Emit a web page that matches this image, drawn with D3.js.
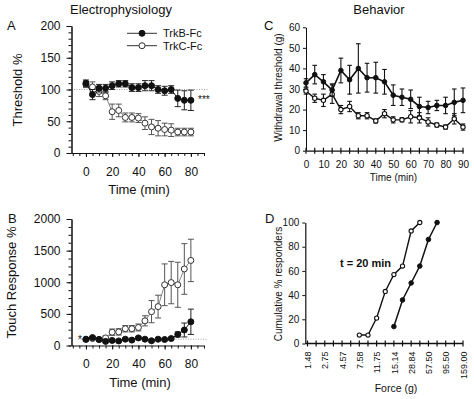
<!DOCTYPE html>
<html><head><meta charset="utf-8">
<script src="https://cdn.jsdelivr.net/npm/d3@7"></script>
<style>
body{margin:0;background:#fff}
svg{display:block}
text{font-family:"Liberation Sans",Arial,Helvetica,sans-serif;fill:#111}
</style>
</head><body>
<svg id="c" width="474" height="399"></svg>
<script>
// ---------- DATA ----------
const timeAB = [0,5,10,15,20,25,30,35,40,45,50,55,60,65,70,75,80];
// Panel A: threshold %
const thrTrkB    = [110,92,102,102,106,109,109,103,103,106,106,100,98,100,86,83,83];
const thrTrkBErr = [5,8,6,6,6,5,5,6,6,8,8,6,7,6,13,15,16];
const thrTrkC    = [108,104,97,90,65,67,56,56,55,47,41,39,37,36,33,33,33];
const thrTrkCErr = [5,8,8,6,12,10,7,7,7,10,12,12,10,10,6,6,6];
// Panel B: touch response %
const touchTrkB    = [100,125,95,65,80,72,100,85,120,100,75,100,95,110,175,245,375];
const touchTrkBErr = [20,20,20,20,20,20,20,20,20,20,20,20,20,20,40,110,200];
const touchTrkC    = [95,110,95,120,210,215,265,265,285,390,535,615,960,995,960,1210,1345];
const touchTrkCErr = [20,20,20,30,50,50,50,50,55,80,175,180,330,335,356,400,335];
// Panel C: withdrawal threshold (g)
const timeC = [0,5,10,15,20,25,30,35,40,45,50,55,60,65,70,75,80,85,90];
const wdTrkB    = [33,37,33.5,29.5,39,34.5,40,35.5,35.5,33.5,27,26,25,21.5,21,22,22,23.5,24.5];
const wdTrkBErr = [2,4.5,3.5,3,6,7,12,7,7.5,6,5,4,4.5,4.5,3,2.5,4,6.5,6];
const wdTrkC    = [29,25.5,24.5,27.5,20,21.5,17,17,14.5,18,15,15,16.5,16,14,12.5,11.5,15.5,11.5];
const wdTrkCErr = [1.5,2,3,4.5,2,2.5,1.5,1.5,1,2,1.5,1,3,2.5,2,1,1,2.5,1.5];
// Panel D: cumulative % responders (x = position on the force scale, half steps between labels)
const forceLabels = ["1.48","2.75","4.57","7.58","11.75","15.14","28.84","57.50","95.50","159.00"];
const cumTrkCPos = [3,3.5,4,4.5,5,5.5,6,6.5];
const cumTrkC    = [7,7,21,43,57,64,93,100];
const cumTrkBPos = [5,5.5,6,6.5,7,7.5];
const cumTrkB    = [14,36,50,64,86,100];
// tick values
const ticksA_major = [0,50,100,150,200];
const ticksB_major = [0,500,1000,1500,2000];
const ticksAB_x = [0,20,40,60,80];
const ticksC_y = [0,10,20,30,40,50,60];
const ticksC_x = [0,10,20,30,40,50,60,70,80,90];
const ticksD_y = [0,20,40,60,80,100];

// ---------- DRAW ----------
const svg = d3.select("#c");
const FONT_AB = 12;

function styleAxis(g, fs){
  g.select(".domain").attr("stroke","#111").attr("stroke-width",1);
  g.selectAll(".tick line").attr("stroke","#111").attr("stroke-width",1);
  g.selectAll(".tick text").style("font-size",fs+"px").style("font-family",'"Liberation Sans",Arial,sans-serif').attr("fill","#111");
}

function series(g, x, y, xs, vs, es, o){
  const pts = xs.map((t,i)=>({t, v:vs[i], e: es ? es[i] : 0}));
  if (es) {
    const eb = g.append("g").attr("stroke", o.errColor).attr("stroke-width", o.errW || 1);
    pts.forEach(p=>{
      eb.append("line").attr("x1",x(p.t)).attr("x2",x(p.t)).attr("y1",y(p.v-p.e)).attr("y2",y(p.v+p.e));
      [p.v-p.e, p.v+p.e].forEach(val=>{
        eb.append("line").attr("x1",x(p.t)-o.cap).attr("x2",x(p.t)+o.cap).attr("y1",y(val)).attr("y2",y(val));
      });
    });
  }
  g.append("path").datum(pts)
    .attr("d", d3.line().x(p=>x(p.t)).y(p=>y(p.v)))
    .attr("fill","none").attr("stroke",o.lineColor).attr("stroke-width",o.lineW);
  g.append("g").selectAll("circle").data(pts).join("circle")
    .attr("cx",p=>x(p.t)).attr("cy",p=>y(p.v)).attr("r",o.r)
    .attr("fill",o.fill).attr("stroke",o.stroke).attr("stroke-width",o.sw||1);
}

function text(x,y,s,o={}){
  const t = svg.append("text").attr("x",x).attr("y",y).text(s)
    .style("font-size",(o.fs||12)+"px").attr("fill","#111");
  if (o.anchor) t.attr("text-anchor",o.anchor);
  if (o.bold) t.style("font-weight","bold");
  if (o.rot) t.attr("transform",`rotate(-90,${x},${y})`);
  return t;
}

// Titles
text(121,13.5,"Electrophysiology",{fs:13,anchor:"middle"});
text(379,13.5,"Behavior",{fs:13,anchor:"middle"});
text(7,30,"A",{fs:13});
text(8,222.5,"B",{fs:13});
text(264,29.5,"C",{fs:13});
text(265,223,"D",{fs:13});

// ===== Panel A =====
{
  const x = d3.scaleLinear([-11,90],[71.5,204]);
  const y = d3.scaleLinear([0,200],[153,26]);
  const g = svg.append("g");
  g.append("line").attr("x1",x(-11)).attr("x2",x(93)).attr("y1",y(100)).attr("y2",y(100))
    .attr("stroke","#888").attr("stroke-width",0.8).attr("stroke-dasharray","1,1.5");
  const yMinor = g.append("g").attr("transform",`translate(${x(-11)},0)`)
    .call(d3.axisLeft(y).tickValues(d3.range(0,201,10)).tickSize(3).tickFormat("").tickSizeOuter(0));
  styleAxis(yMinor, FONT_AB);
  const yAx = g.append("g").attr("transform",`translate(${x(-11)},0)`)
    .call(d3.axisLeft(y).tickValues(ticksA_major).tickSize(5).tickPadding(6).tickFormat(d3.format("d")).tickSizeOuter(0));
  styleAxis(yAx, FONT_AB);
  const xMinor = g.append("g").attr("transform",`translate(0,${y(0)})`)
    .call(d3.axisBottom(x).tickValues(d3.range(-10,91,5)).tickSize(3).tickFormat("").tickSizeOuter(0));
  styleAxis(xMinor, FONT_AB);
  const xAx = g.append("g").attr("transform",`translate(0,${y(0)})`)
    .call(d3.axisBottom(x).tickValues(ticksAB_x).tickSize(4).tickPadding(10).tickSizeOuter(0));
  styleAxis(xAx, FONT_AB);
  xAx.select(".domain").remove();
  series(g,x,y,timeAB,thrTrkC,thrTrkCErr,{errColor:"#555",cap:3,lineColor:"#777",lineW:0.9,r:3,fill:"#fff",stroke:"#333"});
  series(g,x,y,timeAB,thrTrkB,thrTrkBErr,{errColor:"#222",cap:3,lineColor:"#111",lineW:1,r:3,fill:"#111",stroke:"#111"});
  text(198,102.5,"***",{fs:10});
  text(21.5,90,"Threshold %",{fs:13,anchor:"middle",rot:true});
  text(139,194,"Time (min)",{fs:13,anchor:"middle"});
  // legend
  const lg = svg.append("g");
  [[33.3,"#111","#111","TrkB-Fc"],[45.7,"#fff","#333","TrkC-Fc"]].forEach(([ly,fill,st,lab])=>{
    lg.append("line").attr("x1",127).attr("x2",157).attr("y1",ly).attr("y2",ly).attr("stroke","#333").attr("stroke-width",1);
    lg.append("circle").attr("cx",142).attr("cy",ly).attr("r",3).attr("fill",fill).attr("stroke",st);
    text(163,ly+4,lab,{fs:11});
  });
}

// ===== Panel B =====
{
  const x = d3.scaleLinear([-11,90],[71.5,204]);
  const y = d3.scaleLinear([0,2000],[345.5,219]);
  const g = svg.append("g");
  g.append("line").attr("x1",x(-6)).attr("x2",x(92)).attr("y1",y(100)).attr("y2",y(100))
    .attr("stroke","#888").attr("stroke-width",0.8).attr("stroke-dasharray","1,1.5");
  const yMinor = g.append("g").attr("transform",`translate(${x(-11)},0)`)
    .call(d3.axisLeft(y).tickValues(d3.range(0,2001,125)).tickSize(3).tickFormat("").tickSizeOuter(0));
  styleAxis(yMinor, FONT_AB);
  const yAx = g.append("g").attr("transform",`translate(${x(-11)},0)`)
    .call(d3.axisLeft(y).tickValues(ticksB_major).tickSize(5).tickPadding(6).tickFormat(d3.format("d")).tickSizeOuter(0));
  styleAxis(yAx, FONT_AB);
  const xMinor = g.append("g").attr("transform",`translate(0,${y(0)})`)
    .call(d3.axisBottom(x).tickValues(d3.range(-10,91,5)).tickSize(3).tickFormat("").tickSizeOuter(0));
  styleAxis(xMinor, FONT_AB);
  const xAx = g.append("g").attr("transform",`translate(0,${y(0)})`)
    .call(d3.axisBottom(x).tickValues(ticksAB_x).tickSize(4).tickPadding(10).tickSizeOuter(0));
  styleAxis(xAx, FONT_AB);
  xAx.select(".domain").remove();
  series(g,x,y,timeAB,touchTrkC,touchTrkCErr,{errColor:"#555",cap:3,lineColor:"#777",lineW:0.9,r:3,fill:"#fff",stroke:"#333"});
  series(g,x,y,timeAB,touchTrkB,touchTrkBErr,{errColor:"#222",cap:3,lineColor:"#111",lineW:1,r:3,fill:"#111",stroke:"#111"});
  text(78,343,"*",{fs:10});
  text(15.7,282.5,"Touch Response %",{fs:13,anchor:"middle",rot:true});
  text(140,387,"Time (min)",{fs:13,anchor:"middle"});
}

// ===== Panel C =====
{
  const x = d3.scaleLinear([0,90],[306,463]);
  const y = d3.scaleLinear([0,60],[150.7,27.3]);
  const g = svg.append("g");
  const yAx = g.append("g").attr("transform",`translate(${x(0)},0)`)
    .call(d3.axisLeft(y).tickValues(ticksC_y).tickSize(3).tickPadding(3).tickSizeOuter(0));
  styleAxis(yAx, 10);
  const xAx = g.append("g").attr("transform",`translate(0,${y(0)})`)
    .call(d3.axisBottom(x).tickValues(ticksC_x).tickSize(0).tickPadding(10).tickSizeOuter(0));
  styleAxis(xAx, 10);
  xAx.select(".domain").attr("stroke-width",1.3);
  g.append("g").selectAll("line").data(d3.range(0,91,5)).join("line")
    .attr("x1",d=>x(d)).attr("x2",d=>x(d)).attr("y1",y(0)-3).attr("y2",y(0)+3)
    .attr("stroke","#111").attr("stroke-width",1.2);
  series(g,x,y,timeC,wdTrkC,wdTrkCErr,{errColor:"#111",cap:2.3,errW:1.1,lineColor:"#111",lineW:1.4,r:2.2,fill:"#fff",stroke:"#111",sw:1.1});
  series(g,x,y,timeC,wdTrkB,wdTrkBErr,{errColor:"#111",cap:2.3,errW:1.1,lineColor:"#111",lineW:1.6,r:2.3,fill:"#111",stroke:"#111"});
  text(281.5,87.5,"Withdrawal threshold (g)",{fs:10,anchor:"middle",rot:true});
  text(393.5,181,"Time (min)",{fs:10,anchor:"middle"});
}

// ===== Panel D =====
{
  const x = d3.scaleLinear([0,9],[307.5,463]);
  const y = d3.scaleLinear([0,100],[343.5,222.5]);
  const axX = 305.3;
  const g = svg.append("g");
  const yAx = g.append("g").attr("transform",`translate(${axX},0)`)
    .call(d3.axisLeft(y).tickValues(ticksD_y).tickSize(3).tickPadding(3).tickSizeOuter(0));
  styleAxis(yAx, 10);
  yAx.select(".domain").attr("stroke-width",1.2);
  const xAx = g.append("g").attr("transform",`translate(0,${y(0)})`)
    .call(d3.axisBottom(x).tickValues(d3.range(0,10,1)).tickSize(0).tickFormat((d,i)=>forceLabels[i]).tickSizeOuter(0));
  styleAxis(xAx, 9);
  xAx.select(".domain").attr("d",`M${axX},0H${x(9)}`).attr("stroke-width",1.3);
  xAx.selectAll(".tick text").attr("transform","rotate(-90)").attr("x",-8).attr("y",0)
    .attr("dy","0.35em").attr("text-anchor","end");
  g.append("g").selectAll("line").data(d3.range(0,9.01,0.5)).join("line")
    .attr("x1",d=>x(d)).attr("x2",d=>x(d)).attr("y1",y(0)-3).attr("y2",y(0)+3)
    .attr("stroke","#111").attr("stroke-width",1.2);
  series(g,x,y,cumTrkCPos,cumTrkC,null,{lineColor:"#111",lineW:1.4,r:2.1,fill:"#fff",stroke:"#111",sw:1.1});
  series(g,x,y,cumTrkBPos,cumTrkB,null,{lineColor:"#111",lineW:1.5,r:2.3,fill:"#111",stroke:"#111"});
  text(340,266.5,"t = 20 min",{fs:11,bold:true});
  text(281.5,284,"Cumulative % responders",{fs:10,anchor:"middle",rot:true});
  text(396,392,"Force (g)",{fs:10.5,anchor:"middle"});
}
</script>
</body></html>
